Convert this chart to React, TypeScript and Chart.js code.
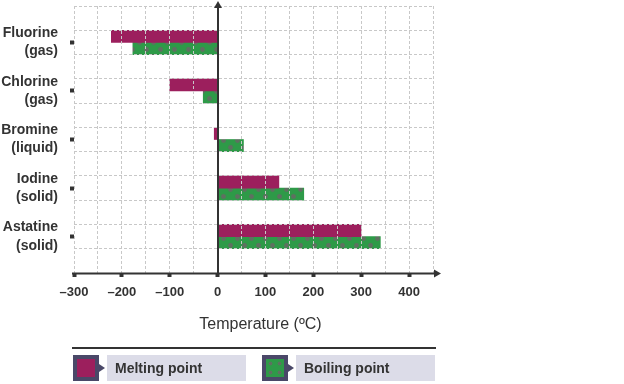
import React, { useEffect, useRef } from 'react';
import { Chart, registerables } from 'chart.js';

Chart.register(...registerables);

const categories: string[][] = [
  ['Fluorine', '(gas)'],
  ['Chlorine', '(gas)'],
  ['Bromine', '(liquid)'],
  ['Iodine', '(solid)'],
  ['Astatine', '(solid)'],
];
const meltingPoints = [-222, -100, -7, 128, 300];
const boilingPoints = [-177, -30, 54, 180, 340];
const xTickLabels = [-300, -200, -100, 0, 100, 200, 300, 400];
const seriesNames = ['Melting point', 'Boiling point'];
const axisTitle = 'Temperature (ºC)';

const FONT = "'Liberation Sans', Arial, sans-serif";
const MAGENTA = '#9c1f5d';
const GREEN = '#2e9a48';
const DOT = 'rgb(95,112,97)';
const DARK = '#333333';
const GRID = '#c8c8c8';
const CLEAR = 'rgba(0,0,0,0)';

function makeDotPattern(): CanvasPattern | string {
  const c = document.createElement('canvas');
  c.width = 14;
  c.height = 14;
  const g = c.getContext('2d');
  if (!g) return GREEN;
  g.fillStyle = GREEN;
  g.fillRect(0, 0, 14, 14);
  g.fillStyle = DOT;
  const dots = [
    [6.5, 7.5],
    [13.5, 0.5], [-0.5, 0.5], [13.5, 14.5], [-0.5, 14.5],
  ];
  dots.forEach(([x, y]) => {
    g.beginPath();
    g.arc(x, y, 2.4, 0, Math.PI * 2);
    g.fill();
  });
  return g.createPattern(c, 'repeat') || GREEN;
}

const arrowPlugin = {
  id: 'arrowAxes',
  afterDraw(chart: any) {
    const { ctx, chartArea, scales } = chart;
    const x0 = Math.round(scales.x.getPixelForValue(0));
    const yb = Math.round(chartArea.bottom) + 0.5;
    ctx.save();
    ctx.strokeStyle = DARK;
    ctx.fillStyle = DARK;
    ctx.lineWidth = 2;
    ctx.beginPath();
    ctx.moveTo(x0, chartArea.bottom + 1);
    ctx.lineTo(x0, 6);
    ctx.stroke();
    ctx.beginPath();
    ctx.moveTo(x0, 1);
    ctx.lineTo(x0 - 4, 8);
    ctx.lineTo(x0 + 4, 8);
    ctx.closePath();
    ctx.fill();
    ctx.beginPath();
    ctx.moveTo(chartArea.left - 2, yb);
    ctx.lineTo(chartArea.right + 2, yb);
    ctx.stroke();
    ctx.beginPath();
    ctx.moveTo(chartArea.right + 8, yb);
    ctx.lineTo(chartArea.right + 1, yb - 4);
    ctx.lineTo(chartArea.right + 1, yb + 4);
    ctx.closePath();
    ctx.fill();
    // axis title, centred under the axis line including its arrow
    ctx.font = `16px ${FONT}`;
    ctx.textAlign = 'center';
    ctx.textBaseline = 'middle';
    ctx.fillText(axisTitle, (chartArea.left + chartArea.right) / 2 + 7, yb + 51);
    ctx.restore();
  },
};

function formatTick(v: number): string {
  if (v < 0) return '\u2013' + Math.abs(v);
  return String(v);
}

export default function App() {
  const ref = useRef<HTMLCanvasElement | null>(null);

  useEffect(() => {
    if (!ref.current) return;
    const pattern = makeDotPattern();
    const chart = new Chart(ref.current, {
      type: 'bar',
      data: {
        datasets: [
          {
            label: seriesNames[0],
            data: meltingPoints.map((v, i) => ({ x: v, y: i })),
            backgroundColor: MAGENTA,
            borderWidth: 0,
          },
          {
            label: seriesNames[1],
            data: boilingPoints.map((v, i) => ({ x: v, y: i })),
            backgroundColor: pattern as any,
            borderWidth: 0,
          },
        ],
      },
      options: {
        indexAxis: 'y',
        responsive: false,
        animation: false,
        events: [],
        layout: { padding: { left: 0, top: 6, right: 191, bottom: 0 } },
        datasets: { bar: { barThickness: 12.15, categoryPercentage: 1, barPercentage: 1 } },
        plugins: { legend: { display: false }, tooltip: { enabled: false } },
        scales: {
          x: {
            type: 'linear',
            offset: false,
            min: -300,
            max: 450,
            afterBuildTicks: (s: any) => {
              const t = [];
              for (let v = -300; v <= 450; v += 50) t.push({ value: v });
              s.ticks = t;
            },
            afterFit: (s: any) => {
              s.height = 111;
              s.paddingLeft = 0;
              s.paddingRight = 0;
            },
            ticks: {
              autoSkip: false,
              maxRotation: 0,
              padding: 8,
              color: DARK,
              font: { family: FONT, size: 13, weight: 'bold' },
              callback: (v: any) => (xTickLabels.includes(Number(v)) ? formatTick(Number(v)) : ''),
            },
            grid: {
              z: 1,
              offset: false,
              lineWidth: 1,
              color: (ctx: any) => (ctx.tick && ctx.tick.value === 0 ? CLEAR : GRID),
              tickColor: (ctx: any) => (ctx.tick && xTickLabels.includes(ctx.tick.value) ? DARK : CLEAR),
              tickLength: 4,
              tickWidth: 4,
            },
            border: { display: false, dash: [3, 2] },
            title: { display: false },
          },
          y: {
            type: 'linear',
            offset: false,
            reverse: true,
            min: -0.75,
            max: categories.length - 0.25,
            afterBuildTicks: (s: any) => {
              const vals: number[] = [];
              for (let v = -0.75; v <= categories.length - 0.25 + 1e-9; v += 0.5) vals.push(v);
              categories.forEach((_, i) => vals.push(i));
              vals.sort((a, b) => a - b);
              s.ticks = vals.map((v) => ({ value: v }));
            },
            afterFit: (s: any) => {
              s.width = 74;
              s.paddingTop = 0;
              s.paddingBottom = 0;
            },
            ticks: {
              autoSkip: false,
              padding: 12,
              color: DARK,
              font: { family: FONT, size: 14, weight: 'bold', lineHeight: 1.3 },
              callback: (v: any) => (Number.isInteger(Number(v)) ? categories[Number(v)] : ''),
            },
            grid: {
              z: 1,
              offset: false,
              lineWidth: 1,
              color: (ctx: any) => (ctx.tick && Number.isInteger(ctx.tick.value) ? CLEAR : GRID),
              tickColor: (ctx: any) => (ctx.tick && Number.isInteger(ctx.tick.value) ? DARK : CLEAR),
              tickLength: 4,
              tickWidth: 4,
            },
            border: { display: false, dash: [3, 2] },
          },
        },
      },
      plugins: [arrowPlugin],
    } as any);
    return () => chart.destroy();
  }, []);

  const legendText: React.CSSProperties = {
    position: 'absolute',
    top: 355,
    height: 26,
    lineHeight: '26px',
    background: '#dcdce8',
    color: DARK,
    fontFamily: FONT,
    fontWeight: 'bold',
    fontSize: 14,
    boxSizing: 'border-box',
  };
  const box: React.CSSProperties = {
    position: 'absolute',
    top: 355,
    width: 26,
    height: 26,
    background: '#4a4868',
  };
  const tri = (left: number): React.CSSProperties => ({
    position: 'absolute',
    left,
    top: 364,
    width: 0,
    height: 0,
    borderTop: '4px solid transparent',
    borderBottom: '4px solid transparent',
    borderLeft: '6px solid #4a4868',
  });

  return (
    <div style={{ position: 'absolute', left: 0, top: 0, width: 624, height: 384, background: '#fff', overflow: 'hidden' }}>
      <canvas ref={ref} width={624} height={384} style={{ display: 'block' }} />
      <div style={{ position: 'absolute', left: 72, top: 347, width: 364, height: 2, background: DARK }} />
      <div style={{ ...box, left: 73 }}>
        <div style={{ position: 'absolute', left: 4, top: 4, width: 18, height: 18, background: MAGENTA }} />
      </div>
      <div style={tri(99)} />
      <div style={{ ...legendText, left: 107, width: 139, paddingLeft: 8 }}>{seriesNames[0]}</div>
      <div style={{ ...box, left: 262 }}>
        <div
          style={{
            position: 'absolute',
            left: 4,
            top: 4,
            width: 18,
            height: 18,
            backgroundColor: GREEN,
            backgroundImage: `radial-gradient(circle, ${DOT} 1.6px, transparent 2.2px)`,
            backgroundSize: '9px 9px',
            backgroundPosition: '0px 0px',
          }}
        />
      </div>
      <div style={tri(288)} />
      <div style={{ ...legendText, left: 296, width: 139, paddingLeft: 8 }}>{seriesNames[1]}</div>
    </div>
  );
}
